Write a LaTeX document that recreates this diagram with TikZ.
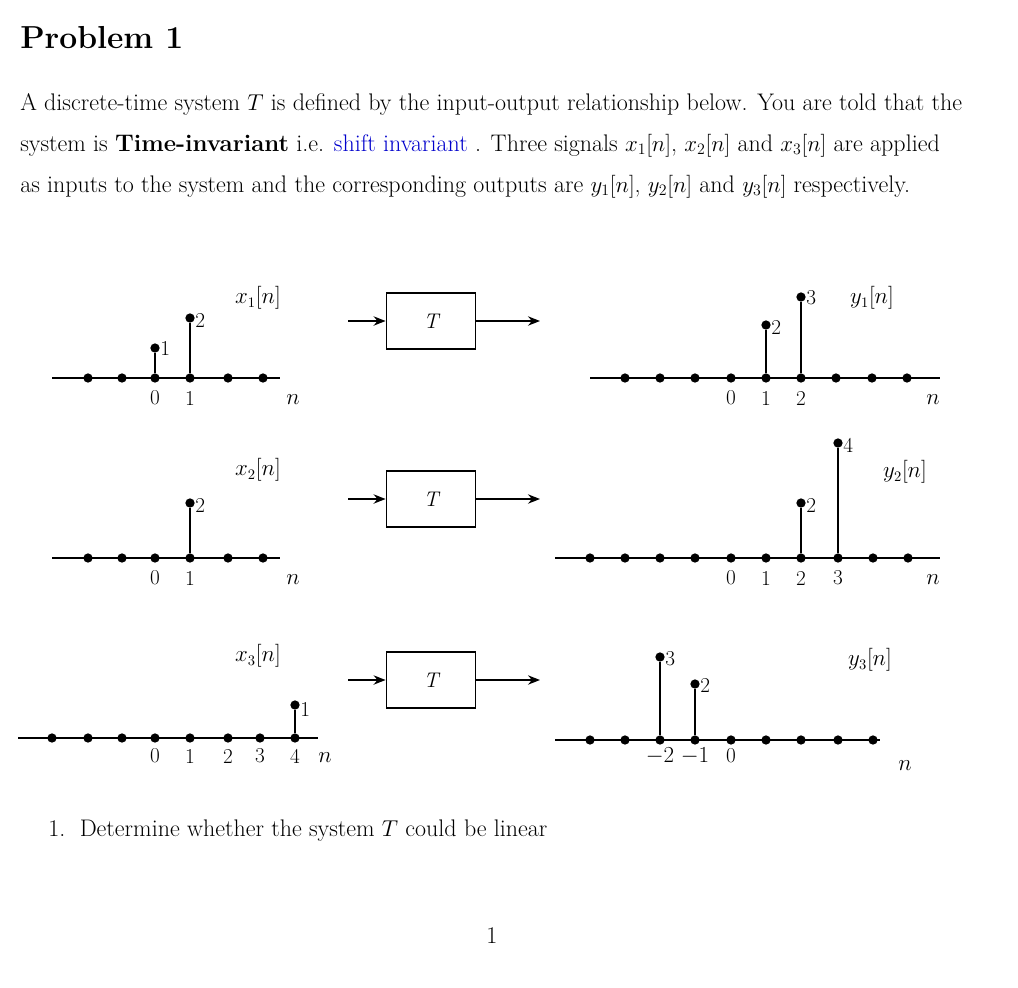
\documentclass[tikz,border=0pt]{standalone}
\usepackage{amsmath}
\usetikzlibrary{arrows.meta}
\begin{document}
\begin{tikzpicture}[x=0.0265cm,y=-0.0265cm,
  txt/.style={anchor=base west,inner sep=0,font=\fontsize{18.1}{22}\selectfont},
  lab/.style={inner sep=0,font=\fontsize{16}{18}\selectfont},
  ax/.style={line width=1.1pt},
  stem/.style={line width=1.6pt},
  dot/.style={circle,fill,inner sep=0,minimum size=7pt},
  sysbox/.style={draw,line width=1.4pt,minimum width=89*0.0265cm,minimum height=56*0.0265cm,font=\fontsize{16}{18}\selectfont\itshape},
  arr/.style={line width=1.4pt,-{Stealth[length=9pt,width=7pt]}}]
\useasboundingbox (0,0) rectangle (1018,988);
\node[anchor=base west,inner sep=0,font=\fontsize{24}{28}\bfseries] (title) at (20,48) {Problem 1};
\node[txt] (l1) at (20,110) {A discrete-time system $T$ is defined by the input-output relationship below. You are told that the};
\node[txt] (l2) at (20,151) {system is \textbf{Time-invariant} i.e. \textcolor{blue!80!black}{shift invariant} . Three signals $x_1[n]$, $x_2[n]$ and $x_3[n]$ are applied};
\node[txt] (l3) at (20,192) {as inputs to the system and the corresponding outputs are $y_1[n]$, $y_2[n]$ and $y_3[n]$ respectively.};
\node[txt] (q1) at (48,836) {1.\ \ Determine whether the system $T$ could be linear};
\node[txt] (pg) at (486,943) {1};

% row 1 left
\draw[ax] (52,378) -- (280,378);
\foreach \x [count=\i] in {88,122,155,190,228,263} \node[dot] (a\i) at (\x,378) {};
\node[dot] (a1t) at (155,348) {}; \draw[stem] (a3) -- (a1t);
\node[dot] (a2t) at (190,318) {}; \draw[stem] (a4) -- (a2t);
\node[lab,anchor=west] at (160,348) {1};
\node[lab,anchor=west] at (195,320) {2};
\node[lab] at (155,398) {0}; \node[lab] at (190,398) {1};
\node[lab] at (293,400) {$n$};
\node[lab] at (258,298) {$x_1[n]$};

% row 2 left
\draw[ax] (52,558) -- (280,558);
\foreach \x [count=\i] in {88,122,155,190,228,263} \node[dot] (b\i) at (\x,558) {};
\node[dot] (b2t) at (190,503) {}; \draw[stem] (b4) -- (b2t);
\node[lab,anchor=west] at (195,505) {2};
\node[lab] at (155,578) {0}; \node[lab] at (190,578) {1};
\node[lab] at (293,580) {$n$};
\node[lab] at (258,470) {$x_2[n]$};

% row 3 left
\draw[ax] (18,738) -- (318,738);
\foreach \x [count=\i] in {52,88,122,155,190,228,260,295} \node[dot] (c\i) at (\x,738) {};
\node[dot] (c1t) at (295,705) {}; \draw[stem] (c8) -- (c1t);
\node[lab,anchor=west] at (300,709) {1};
\foreach \x/\t in {155/0,190/1,228/2,260/3,295/4} \node[lab] at (\x,756) {\t};
\node[lab] at (325,758) {$n$};
\node[lab] at (258,656) {$x_3[n]$};

% boxes
\foreach \y/\k in {321/1,499/2,680/3}{
  \node[sysbox] (T\k) at (431,\y) {T};
  \coordinate (in\k) at (348,\y);
  \coordinate (out\k) at (540,\y);
  \draw[arr] (in\k) -- (T\k.west);
  \draw[arr] (T\k.east) -- (out\k);
}

% row 1 right
\draw[ax] (590,378) -- (940,378);
\foreach \x [count=\i] in {625,660,695,731,766,801,836,872,907} \node[dot] (d\i) at (\x,378) {};
\node[dot] (d2t) at (766,325) {}; \draw[stem] (d5) -- (d2t);
\node[dot] (d3t) at (801,297) {}; \draw[stem] (d6) -- (d3t);
\node[lab,anchor=west] at (771,327) {2};
\node[lab,anchor=west] at (806,298) {3};
\foreach \x/\t in {731/0,766/1,801/2} \node[lab] at (\x,398) {\t};
\node[lab] at (933,400) {$n$};
\node[lab] at (872,298) {$y_1[n]$};

% row 2 right
\draw[ax] (555,558) -- (940,558);
\foreach \x [count=\i] in {590,625,660,695,731,766,801,838,873,908} \node[dot] (e\i) at (\x,558) {};
\node[dot] (e2t) at (801,503) {}; \draw[stem] (e7) -- (e2t);
\node[dot] (e4t) at (838,443) {}; \draw[stem] (e8) -- (e4t);
\node[lab,anchor=west] at (806,505) {2};
\node[lab,anchor=west] at (843,445) {4};
\foreach \x/\t in {731/0,766/1,801/2,838/3} \node[lab] at (\x,578) {\t};
\node[lab] at (933,580) {$n$};
\node[lab] at (905,472) {$y_2[n]$};

% row 3 right
\draw[ax] (555,740) -- (880,740);
\foreach \x [count=\i] in {590,625,660,695,731,766,801,838,873} \node[dot] (f\i) at (\x,740) {};
\node[dot] (f3t) at (660,657) {}; \draw[stem] (f3) -- (f3t);
\node[dot] (f2t) at (695,684) {}; \draw[stem] (f4) -- (f2t);
\node[lab,anchor=west] at (665,659) {3};
\node[lab,anchor=west] at (700,685) {2};
\foreach \x/\t in {660/$-2$,695/$-1$,731/0} \node[lab] at (\x,756) {\t};
\node[lab] at (905,766) {$n$};
\node[lab] at (870,660) {$y_3[n]$};
\end{tikzpicture}
\end{document}
